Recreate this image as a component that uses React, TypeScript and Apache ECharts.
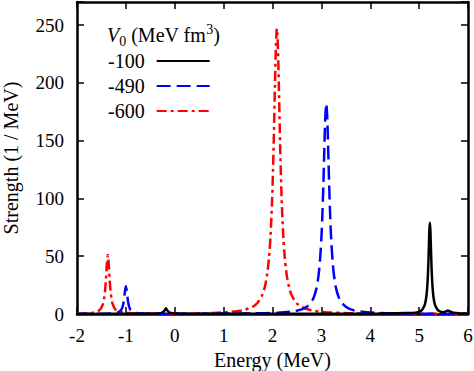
import React, { useEffect, useRef } from "react";
import * as echarts from "echarts";

const seriesNames = ["-100", "-490", "-600"];
const seriesColors = ["#000000", "#0000ff", "#ff0000"];

const energy100 = [-2, -0.6, -0.38, -0.28, -0.24, -0.2, -0.18, -0.16, -0.12, -0.08, 0.02, 1, 3, 4.2, 4.72, 4.92, 5.02, 5.07, 5.12, 5.15, 5.17, 5.18, 5.19, 5.2, 5.21, 5.22, 5.23, 5.24, 5.25, 5.26, 5.27, 5.29, 5.32, 5.37, 5.42, 5.5, 5.55, 5.59, 5.63, 5.7, 5.85, 6];
const strength100 = [0.1, 0.2, 0.4, 1.0, 1.8, 3.5, 5, 3.5, 1.8, 1.0, 0.4, 0.2, 0.3, 0.4, 0.8, 1.1, 2.3, 4.1, 8.6, 15.8, 26, 34.3, 45.5, 59.5, 73, 79, 73, 59.5, 45.5, 34.3, 26, 15.8, 8.6, 4.1, 2.3, 1.6, 2.3, 3.0, 2.3, 1.0, 0.5, 0.4];

const energy490 = [-2, -1.5, -1.3, -1.2, -1.15, -1.1, -1.08, -1.06, -1.04, -1.02, -1.0, -0.98, -0.96, -0.94, -0.92, -0.9, -0.85, -0.8, -0.7, -0.3, 0.5, 1.1, 1.6, 2.1, 2.4, 2.6, 2.7, 2.8, 2.85, 2.9, 2.94, 2.97, 3.0, 3.02, 3.04, 3.06, 3.08, 3.1, 3.12, 3.14, 3.16, 3.18, 3.2, 3.23, 3.26, 3.3, 3.35, 3.4, 3.5, 3.6, 3.8, 4.1, 4.6, 5.2, 6];
const strength490 = [0.2, 0.3, 0.4, 0.9, 1.6, 3.3, 4.8, 7.4, 12, 19.2, 24, 19.2, 12, 7.4, 4.8, 3.3, 1.6, 0.9, 0.5, 0.3, 0.3, 0.45, 0.6, 1.0, 2.1, 4.0, 6.2, 10.7, 15.0, 22.4, 32.8, 45.5, 65.5, 85.1, 111, 141.7, 170, 182, 170, 141.7, 111, 85.1, 65.5, 45.5, 32.8, 22.4, 15.0, 10.7, 6.2, 4.0, 2.1, 1.0, 0.45, 0.3, 0.2];

const energy600 = [-2, -1.8, -1.67, -1.57, -1.52, -1.47, -1.45, -1.43, -1.41, -1.39, -1.37, -1.35, -1.33, -1.31, -1.29, -1.27, -1.22, -1.17, -1.07, -0.9, -0.5, 0, 0.5, 1.09, 1.39, 1.59, 1.69, 1.79, 1.84, 1.89, 1.93, 1.96, 1.99, 2.01, 2.03, 2.05, 2.07, 2.09, 2.11, 2.13, 2.15, 2.17, 2.19, 2.22, 2.25, 2.29, 2.34, 2.39, 2.49, 2.59, 2.79, 3.09, 3.59, 4.09, 5, 6];
const strength600 = [0.3, 0.6, 1.1, 2.5, 4.2, 8.6, 12.3, 18.4, 28.5, 42.6, 51, 42.6, 28.5, 18.4, 12.3, 8.6, 4.2, 2.5, 1.3, 0.8, 0.5, 0.5, 0.6, 1.6, 3.2, 6.2, 9.5, 16.4, 22.9, 34.1, 49.4, 67.9, 96.4, 123.5, 158, 197.6, 232, 247, 232, 197.6, 158, 123.5, 96.4, 67.9, 49.4, 34.1, 22.9, 16.4, 9.5, 6.2, 3.2, 1.6, 0.7, 0.4, 0.3, 0.2];

const xTicks = { min: -2, max: 6, interval: 1 };
const yTicks = { min: 0, max: 270, interval: 50 };

const FONT = "'Liberation Serif', 'Times New Roman', serif";

function pairs(xs: number[], ys: number[]) {
  return xs.map((x, i) => [x, ys[i]]);
}

export default function App() {
  const ref = useRef<HTMLDivElement>(null);
  useEffect(() => {
    if (!ref.current) return;
    const chart = echarts.init(ref.current, null, { renderer: "svg" });
    const axisLine = { show: true, onZero: false, lineStyle: { color: "#000", width: 2.5 } };
    const axisTick = { show: true, inside: true, length: 7, lineStyle: { color: "#000", width: 1.5 } };
    const label = { fontFamily: FONT, fontSize: 19, color: "#000" };
    const nameStyle = { fontFamily: FONT, fontSize: 20, color: "#000" };
    const datas = [pairs(energy100, strength100), pairs(energy490, strength490), pairs(energy600, strength600)];
    const dashes: any[] = ["solid", [14, 6], [10, 4, 3, 4]];
    chart.setOption({
      animation: false,
      grid: { left: 77, right: 6, top: 2, bottom: 57, containLabel: false, outerBoundsMode: "none" },
      xAxis: [
        {
          type: "value", ...xTicks, position: "bottom",
          axisLine, axisTick, splitLine: { show: false },
          axisLabel: { ...label, margin: 12 },
          name: "Energy (MeV)", nameLocation: "middle", nameGap: 31,
          nameTextStyle: nameStyle,
        },
        {
          type: "value", ...xTicks, position: "top",
          axisLine, axisTick, splitLine: { show: false }, axisLabel: { show: false },
        },
      ],
      yAxis: [
        {
          type: "value", ...yTicks, position: "left",
          axisLine, axisTick, splitLine: { show: false },
          axisLabel: { ...label, margin: 13, formatter: (v: number) => (v % 50 === 0 ? String(v) : "") },
          name: "Strength (1 / MeV)", nameLocation: "middle", nameGap: 56,
          nameTextStyle: nameStyle,
        },
        {
          type: "value", ...yTicks, position: "right",
          axisLine, axisTick, splitLine: { show: false }, axisLabel: { show: false },
        },
      ],
      legend: {
        orient: "vertical", left: 108, top: 51, padding: 0, align: "right",
        itemWidth: 53, itemHeight: 14, itemGap: 5,
        itemStyle: { opacity: 0 },
        textStyle: { fontFamily: FONT, color: "#000", fontSize: 20, lineHeight: 20, padding: [0, 7, 0, 0] },
        data: seriesNames,
      },
      graphic: [
        {
          type: "text", left: 107, top: 22,
          style: {
            text: "{v|V}{sub|0}{n| (MeV fm}{sup|3}{n|)}",
            rich: {
              v: { fontFamily: FONT, fontSize: 20, fontStyle: "italic", lineHeight: 26, verticalAlign: "middle" },
              sub: { fontFamily: FONT, fontSize: 14, lineHeight: 26, verticalAlign: "bottom" },
              n: { fontFamily: FONT, fontSize: 20, lineHeight: 26, verticalAlign: "middle" },
              sup: { fontFamily: FONT, fontSize: 14, lineHeight: 26, verticalAlign: "top" },
            },
            fill: "#000",
          },
        },
      ],
      series: seriesNames.map((name, i) => ({
        name, type: "line", data: datas[i], symbol: "none", showSymbol: false,
        xAxisIndex: 0, yAxisIndex: 0, smooth: 0.3,
        lineStyle: { color: seriesColors[i], width: 2.5, type: dashes[i] },
        itemStyle: { color: seriesColors[i] },
        z: 3 - i,
      })),
    });
    return () => chart.dispose();
  }, []);
  return <div ref={ref} style={{ width: 474, height: 371, position: "absolute", left: 0, top: 0 }} />;
}
